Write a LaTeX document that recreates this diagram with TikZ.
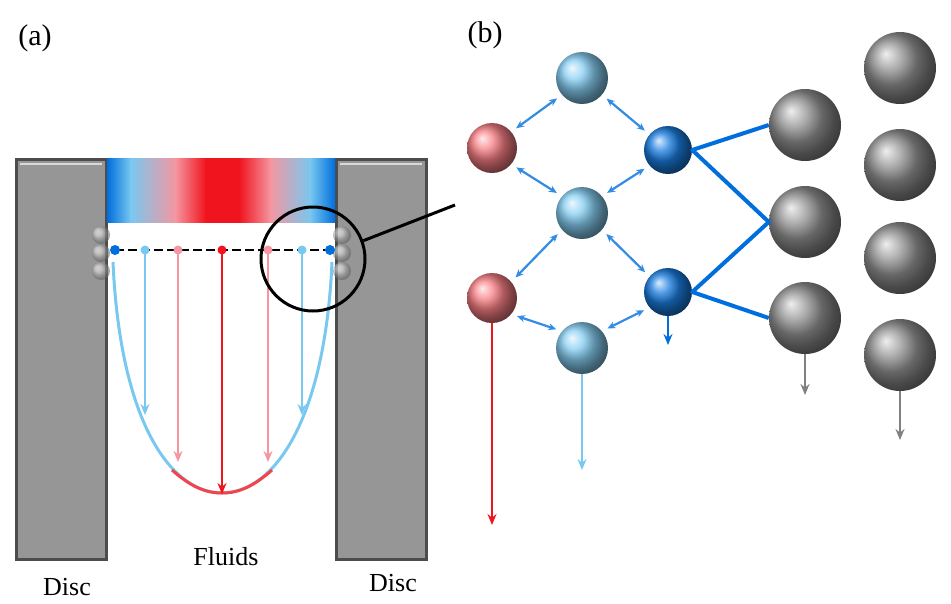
\documentclass[tikz,border=0pt]{standalone}
\usepackage{fontspec}
\setmainfont{Liberation Serif}
\usetikzlibrary{arrows.meta}
\definecolor{lb}{RGB}{120,200,240}
\definecolor{db}{RGB}{0,110,220}
\definecolor{rd}{RGB}{240,20,30}
\definecolor{pk}{RGB}{245,150,160}
\definecolor{gr}{RGB}{150,150,150}
\begin{document}
\begin{tikzpicture}[x=1pt,y=-1pt,
 lbl/.style={font=\fontsize{30}{30}\selectfont,anchor=center,inner sep=0},
 disc/.style={fill=gr,draw=gray!60!black,line width=3pt},
 ball/.style={circle,inner sep=0,minimum size=#1},
 dbl/.style={{Stealth[length=8pt,width=7pt]}-{Stealth[length=8pt,width=7pt]},db!80,line width=2.2pt,shorten <=6pt,shorten >=6pt},
 dn/.style={-{Stealth[length=11pt,width=9pt]},line width=2.5pt}]
\useasboundingbox (0,0) rectangle (951,603);
\node[lbl] (la) at (35,38) {(a)};
\node[lbl] (lb) at (485,35) {(b)};
\node[lbl,font=\fontsize{26}{26}\selectfont] (fl) at (226,557) {Fluids};
\node[lbl,font=\fontsize{26}{26}\selectfont] (d1) at (67,587) {Disc};
\node[lbl,font=\fontsize{26}{26}\selectfont] (d2) at (393,583) {Disc};
% discs
\draw[disc] (16,159) rectangle (106,559);
\draw[disc] (336,159) rectangle (426,559);
\draw[gray!30,line width=2pt] (20,164) -- (102,164);
\draw[gray!30,line width=2pt] (340,164) -- (422,164);
% gradient bar
\shade[left color=db,right color=lb] (107,158) rectangle (131,222);
\shade[left color=lb,right color=pk] (130,158) rectangle (176,222);
\shade[left color=pk,right color=rd] (175,158) rectangle (206,222);
\shade[left color=rd,right color=rd] (205,158) rectangle (240,222);
\shade[left color=rd,right color=pk] (239,158) rectangle (271,222);
\shade[left color=pk,right color=lb] (270,158) rectangle (311,222);
\shade[left color=lb,right color=db] (310,158) rectangle (335,222);
% small balls on wall
\foreach \y in {235,253,271}{
 \shade[ball color=gray!30,opacity=0.6] (101,\y) circle (9);
 \shade[ball color=gray!30,opacity=0.6] (342,\y) circle (9);}
% parabola
\draw[line width=3pt,lb] (113,262) .. controls (120,420) and (170,493) .. (222,493);
\draw[line width=3pt,lb] (332,262) .. controls (325,420) and (274,493) .. (222,493);
\draw[line width=3pt,rd!80] (172,470) .. controls (190,486) and (205,493) .. (222,493) .. controls (239,493) and (254,486) .. (272,470);
% dashed line
\draw[line width=2.5pt,dash pattern=on 9pt off 4pt] (115,250) -- (330,250);
\foreach \x/\c/\e in {145/lb/415,178/pk/462,222/rd/494,268/pk/462,302/lb/415}{
 \draw[dn,\c] (\x,250) -- (\x,\e);
 \fill[\c] (\x,250) circle (4.5);}
\fill[db] (115,250) circle (5); \fill[db] (330,250) circle (5);
% zoom circle
\node[circle,draw,line width=3pt,minimum size=104pt] (zc) at (313,259) {};
\coordinate (zt) at (455,205);
\draw[line width=3pt] (zc.20) -- (zt);
% balls
\node[ball=50pt,shading=ball,ball color=rd!55] (r1) at (492,148) {};
\node[ball=50pt,shading=ball,ball color=rd!55] (r2) at (492,298) {};
\node[ball=52pt,shading=ball,ball color=lb!90] (l1) at (582,78) {};
\node[ball=52pt,shading=ball,ball color=lb!90] (l2) at (582,213) {};
\node[ball=52pt,shading=ball,ball color=lb!90] (l3) at (582,348) {};
\node[ball=48pt,shading=ball,ball color=db!90] (b1) at (668,150) {};
\node[ball=48pt,shading=ball,ball color=db!90] (b2) at (668,292) {};
\foreach \n/\x/\y in {g1/805/125,g2/805/222,g3/805/318,g4/900/68,g5/900/165,g6/900/258,g7/900/355}
 \node[ball=72pt,shading=ball,ball color=gray!85] (\n) at (\x,\y) {};
% double arrows
\draw[dbl] (r1.40) -- (l1.220);
\draw[dbl] (r1.-40) -- (l2.140);
\draw[dbl] (l1.-40) -- (b1.140);
\draw[dbl] (l2.40) -- (b1.220);
\draw[dbl] (l2.-40) -- (b2.140);
\draw[dbl] (r2.40) -- (l2.220);
\draw[dbl] (r2.-40) -- (l3.140);
\draw[dbl] (l3.40) -- (b2.220);
% blue bonds
\draw[line width=4pt,db,line join=round] (g1.west) -- (b1.east) -- (g2.west) -- (b2.east) -- (g3.west);
% down arrows
\coordinate (e1) at (492,525); \coordinate (e2) at (582,470);
\coordinate (e3) at (668,345); \coordinate (e4) at (805,395); \coordinate (e5) at (900,440);
\draw[dn,rd] (r2.south) -- (e1);
\draw[dn,lb] (l3.south) -- (e2);
\draw[dn,db] (b2.south) -- (e3);
\draw[dn,gray] (g3.south) -- (e4);
\draw[dn,gray] (g7.south) -- (e5);
\end{tikzpicture}
\end{document}
